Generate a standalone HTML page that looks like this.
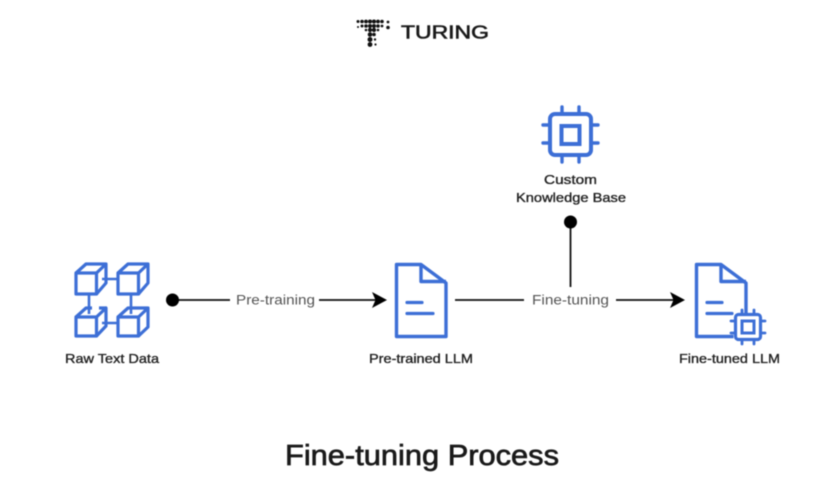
<!DOCTYPE html>
<html><head><meta charset="utf-8"><style>
html,body{margin:0;padding:0;background:#fff;width:820px;height:497px;overflow:hidden}
svg{display:block;filter:blur(.4px)}
text{font-family:"Liberation Sans",sans-serif}
</style></head><body>
<svg width="820" height="497" viewBox="0 0 820 497" xmlns="http://www.w3.org/2000/svg">
<rect width="820" height="497" fill="#fff"/>
<!-- logo -->
<g fill="#111">
<circle cx="358" cy="21.500" r="1.500"/><circle cx="362" cy="21.500" r="1.800"/><circle cx="366" cy="21.500" r="1.900"/><circle cx="370" cy="21.500" r="2"/><circle cx="374" cy="21.500" r="2"/><circle cx="378" cy="21.500" r="1.900"/><circle cx="382" cy="21.500" r="1.800"/><circle cx="388" cy="22" r="1.400"/>
<circle cx="362" cy="26" r="1.500"/><circle cx="366" cy="26" r="1.800"/><circle cx="370" cy="26" r="2"/><circle cx="374" cy="26" r="2"/><circle cx="378" cy="26" r="1.800"/><circle cx="382" cy="26" r="1.400"/>
<circle cx="358" cy="27" r="1"/><circle cx="388" cy="27.500" r="1.800"/>
<circle cx="366" cy="30" r="1.300"/><circle cx="370" cy="30" r="2.100"/><circle cx="374" cy="30" r="2.100"/><circle cx="378" cy="30" r="1.300"/>
<circle cx="370" cy="34.500" r="2.300"/><circle cx="374" cy="34.500" r="1.800"/>
<circle cx="370" cy="39.500" r="2.500"/><circle cx="375" cy="39.500" r="1.200"/>
<circle cx="370" cy="44.500" r="2.400"/><circle cx="375.500" cy="44.500" r="1.100"/>
</g>
<text x="401" y="38.500" font-size="18" fill="#1a1a1a" stroke="#1a1a1a" stroke-width=".6" textLength="88" lengthAdjust="spacingAndGlyphs">TURING</text>

<!-- raw data icon -->
<g fill="none" stroke="#3d6fd6" stroke-width="3.200" stroke-linejoin="round">
<rect x="76" y="273" width="20.500" height="21"/><path d="M76 273l10-9h20v19l-9.500 11M96.500 273l9.500-9"/>
<rect x="118" y="273" width="20.500" height="21"/><path d="M118 273l10-9h20v19l-9.500 11M138.500 273l9.500-9"/>
<rect x="76" y="317" width="20.500" height="19"/><path d="M76 317l10-9h6M96.500 317l9.500-9v18l-9.500 10M99 308h7"/>
<rect x="118" y="317" width="20.500" height="19"/><path d="M118 317l10-9h20v19l-9.500 9M138.500 317l9.500-9"/>
<path d="M102 279h16M102 323h16M89 294v20M131 294v20" stroke-width="2.600"/>
</g>

<!-- pre-trained doc -->
<path d="M396.500 264.500h24.500l25 18.500v53.500h-49.500z" fill="none" stroke="#3d6fd6" stroke-width="3.400" stroke-linejoin="round"/>
<path d="M421 264.500v17h25" fill="none" stroke="#3d6fd6" stroke-width="3.400" stroke-linejoin="round"/>
<path d="M407 302.500h15M407 313.500h26" fill="none" stroke="#3d6fd6" stroke-width="3.200" stroke-linecap="round"/>

<!-- fine-tuned doc -->
<path d="M746 314V283l-25-18.500h-24.500v72h37" fill="none" stroke="#3d6fd6" stroke-width="3.400" stroke-linejoin="round"/>
<path d="M721 264.500v17h25" fill="none" stroke="#3d6fd6" stroke-width="3.400" stroke-linejoin="round"/>
<path d="M707 302.500h15M707 313.500h25" fill="none" stroke="#3d6fd6" stroke-width="3.200" stroke-linecap="round"/>
<rect x="735.500" y="314.500" width="25" height="25" rx="3" fill="#fff" stroke="#3d6fd6" stroke-width="3.200"/>
<rect x="742" y="321" width="12" height="12" fill="none" stroke="#3d6fd6" stroke-width="3"/>
<path d="M742 310v4M754 310v4M742 340v4M754 340v4M731 321h4M731 333h4M761 321h4M761 333h4" stroke="#3d6fd6" stroke-width="2.800" stroke-linecap="round"/>

<!-- chip -->
<rect x="550" y="114" width="41" height="41" rx="5" fill="none" stroke="#3d6fd6" stroke-width="4"/>
<rect x="561.500" y="126" width="18" height="18" fill="none" stroke="#3d6fd6" stroke-width="4"/>
<path d="M562 107v6M579 107v6M562 156v6M579 156v6M543 125h6M543 143h6M592 125h6M592 143h6" stroke="#3d6fd6" stroke-width="3.400" stroke-linecap="round"/>

<!-- connectors -->
<g stroke="#111" stroke-width="1.800" fill="none">
<path d="M172 300h58M319 300h60M455 300h69M616 300h60M570.500 222v65"/>
</g>
<g fill="#000">
<circle cx="172.500" cy="300" r="6.500"/>
<circle cx="570.500" cy="222" r="6.500"/>
<path d="M372 292l15 8-15 8 3.500-8z"/>
<path d="M670 292l15 8-15 8 3.500-8z"/>
</g>

<!-- labels -->
<g fill="#222" stroke="#222" stroke-width=".35" font-size="13">
<text x="65" y="363" textLength="94" lengthAdjust="spacingAndGlyphs">Raw Text Data</text>
<text x="369" y="363" textLength="104" lengthAdjust="spacingAndGlyphs">Pre-trained LLM</text>
<text x="679" y="363" textLength="101" lengthAdjust="spacingAndGlyphs">Fine-tuned LLM</text>
<text x="544" y="184" textLength="53" lengthAdjust="spacingAndGlyphs">Custom</text>
<text x="516" y="202" textLength="110" lengthAdjust="spacingAndGlyphs">Knowledge Base</text>
</g>
<g fill="#555" font-size="13.500">
<text x="236" y="304.500" textLength="79" lengthAdjust="spacingAndGlyphs">Pre-training</text>
<text x="532" y="304.500" textLength="77" lengthAdjust="spacingAndGlyphs">Fine-tuning</text>
</g>
<text x="285" y="465" font-size="29" fill="#1a1a1a" stroke="#1a1a1a" stroke-width=".7" textLength="274" lengthAdjust="spacingAndGlyphs">Fine-tuning Process</text>
</svg>
</body></html>
